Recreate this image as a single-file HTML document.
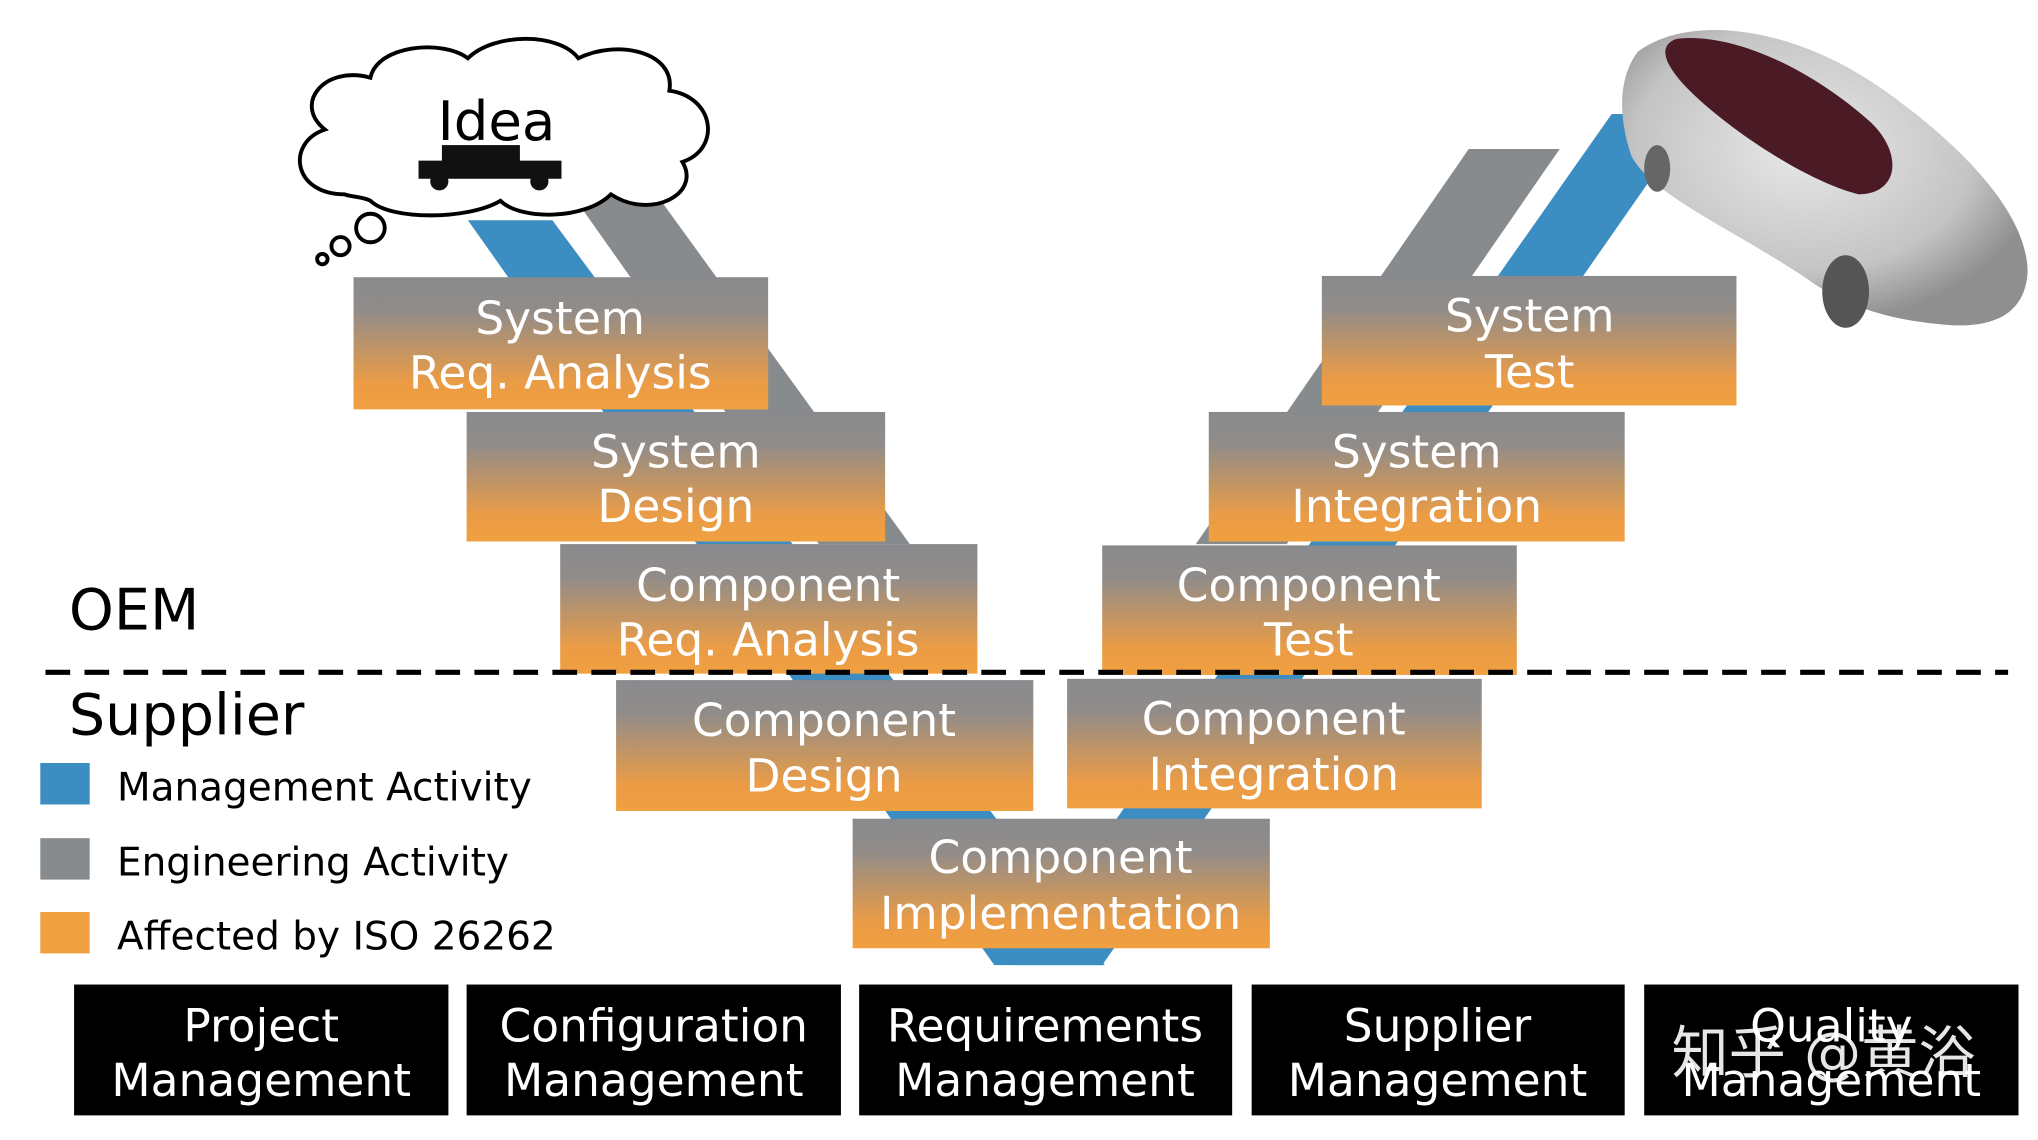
<!DOCTYPE html>
<html><head><meta charset="utf-8"><style>
html,body{margin:0;padding:0;background:#fff;}
svg{display:block;}
text{font-family:"DejaVu Sans","Liberation Sans",sans-serif;}
</style></head><body>
<svg width="2038" height="1140" viewBox="0 0 1568 880" preserveAspectRatio="none" xmlns="http://www.w3.org/2000/svg">
<defs>
<linearGradient id="g" x1="0" y1="0" x2="0" y2="1">
<stop offset="0" stop-color="#8a8a8c"/><stop offset="0.25" stop-color="#908c8a"/><stop offset="0.8" stop-color="#eb9c45"/><stop offset="1" stop-color="#f0a040"/>
</linearGradient>
<radialGradient id="car" cx="0.45" cy="0.4" r="0.6">
<stop offset="0" stop-color="#e8e8e8"/><stop offset="0.7" stop-color="#c4c4c4"/><stop offset="1" stop-color="#8f8f8f"/>
</radialGradient>
</defs>
<rect width="1568" height="880" fill="#fff"/>
<!-- bands -->
<polygon points="440,150 505,150 700,420 630,420" fill="#888b8e"/>
<polygon points="360,170 425,170 850,745 765,745" fill="#3b8dc2"/>
<polygon points="1130,115 1200,115 990,420 920,420" fill="#888b8e"/>
<polygon points="1240,88 1305,88 848,745 780,745" fill="#3b8dc2"/>
<!-- car -->
<g>
<path d="M1260,40 C1300,10 1380,20 1450,70 C1520,120 1560,170 1560,210 C1558,245 1530,255 1490,250 C1440,245 1410,230 1390,215 C1330,175 1270,150 1255,120 C1245,90 1245,60 1260,40 Z" fill="url(#car)"/>
<path d="M1290,30 C1330,25 1390,50 1440,95 C1465,120 1460,150 1430,150 C1390,140 1330,100 1300,70 C1280,50 1275,35 1290,30 Z" fill="#4a1a25"/>
<ellipse cx="1420" cy="225" rx="18" ry="28" fill="#555"/>
<ellipse cx="1275" cy="130" rx="10" ry="18" fill="#666"/>
</g>
<!-- cloud -->
<g fill="#fff" stroke="#000" stroke-width="3">
<path d="M265,150 C225,150 220,110 250,100 C225,80 250,50 285,60 C290,35 340,30 360,45 C380,25 430,25 445,45 C475,30 520,40 515,70 C550,75 555,115 525,125 C540,150 500,170 470,150 C450,170 400,170 385,155 C360,170 300,170 285,155 C280,152 270,152 265,150 Z"/>
<circle cx="285" cy="176" r="11"/><circle cx="262" cy="190" r="7"/><circle cx="248" cy="200" r="4"/>
</g>
<text x="382" y="108" font-size="42" text-anchor="middle" fill="#000">Idea</text>
<g fill="#111"><rect x="340" y="112" width="60" height="18"/><rect x="322" y="124" width="110" height="14"/><circle cx="338" cy="140" r="7"/><circle cx="415" cy="140" r="7"/></g>
<!-- boxes -->
<g fill="url(#g)">
<rect x="272" y="214" width="319" height="102"/>
<rect x="359" y="318" width="322" height="100"/>
<rect x="431" y="420" width="321" height="100"/>
<rect x="474" y="525" width="321" height="101"/>
<rect x="656" y="632" width="321" height="100"/>
<rect x="821" y="524" width="319" height="100"/>
<rect x="848" y="421" width="319" height="100"/>
<rect x="930" y="318" width="320" height="100"/>
<rect x="1017" y="213" width="319" height="100"/>
</g>
<g fill="#fff" font-size="35" text-anchor="middle">
<text x="431" y="258">System</text><text x="431" y="300">Req. Analysis</text>
<text x="520" y="361">System</text><text x="520" y="403">Design</text>
<text x="591" y="464">Component</text><text x="591" y="506">Req. Analysis</text>
<text x="634" y="568">Component</text><text x="634" y="611">Design</text>
<text x="816" y="674">Component</text><text x="816" y="717">Implementation</text>
<text x="980" y="567">Component</text><text x="980" y="610">Integration</text>
<text x="1007" y="464">Component</text><text x="1007" y="506">Test</text>
<text x="1090" y="361">System</text><text x="1090" y="403">Integration</text>
<text x="1177" y="256">System</text><text x="1177" y="299">Test</text>
</g>
<line x1="35" y1="519" x2="1545" y2="519" stroke="#000" stroke-width="4" stroke-dasharray="19,11"/>
<text x="53" y="486" font-size="44" fill="#000">OEM</text>
<text x="53" y="567" font-size="44" fill="#000">Supplier</text>
<rect x="31" y="589" width="38" height="32" fill="#3b8dc2"/>
<rect x="31" y="647" width="38" height="32" fill="#888b8e"/>
<rect x="31" y="704" width="38" height="32" fill="#f0a040"/>
<g font-size="30" fill="#000">
<text x="90" y="618">Management Activity</text>
<text x="90" y="676">Engineering Activity</text>
<text x="90" y="733">Affected by ISO 26262</text>
</g>
<g fill="#000">
<rect x="57" y="760" width="288" height="101"/>
<rect x="359" y="760" width="288" height="101"/>
<rect x="661" y="760" width="287" height="101"/>
<rect x="963" y="760" width="287" height="101"/>
<rect x="1265" y="760" width="288" height="101"/>
</g>
<g fill="#fff" font-size="35" text-anchor="middle">
<text x="201" y="804">Project</text><text x="201" y="846">Management</text>
<text x="503" y="804">Configuration</text><text x="503" y="846">Management</text>
<text x="804" y="804">Requirements</text><text x="804" y="846">Management</text>
<text x="1106" y="804">Supplier</text><text x="1106" y="846">Management</text>
<text x="1409" y="804">Quality</text><text x="1409" y="846">Management</text>
</g>
<text x="1403" y="828" font-size="44" fill="#fff" fill-opacity="0.9" text-anchor="middle" font-family="'Noto Sans CJK SC',sans-serif">知乎 @黄浴</text>
</svg>
</body></html>
